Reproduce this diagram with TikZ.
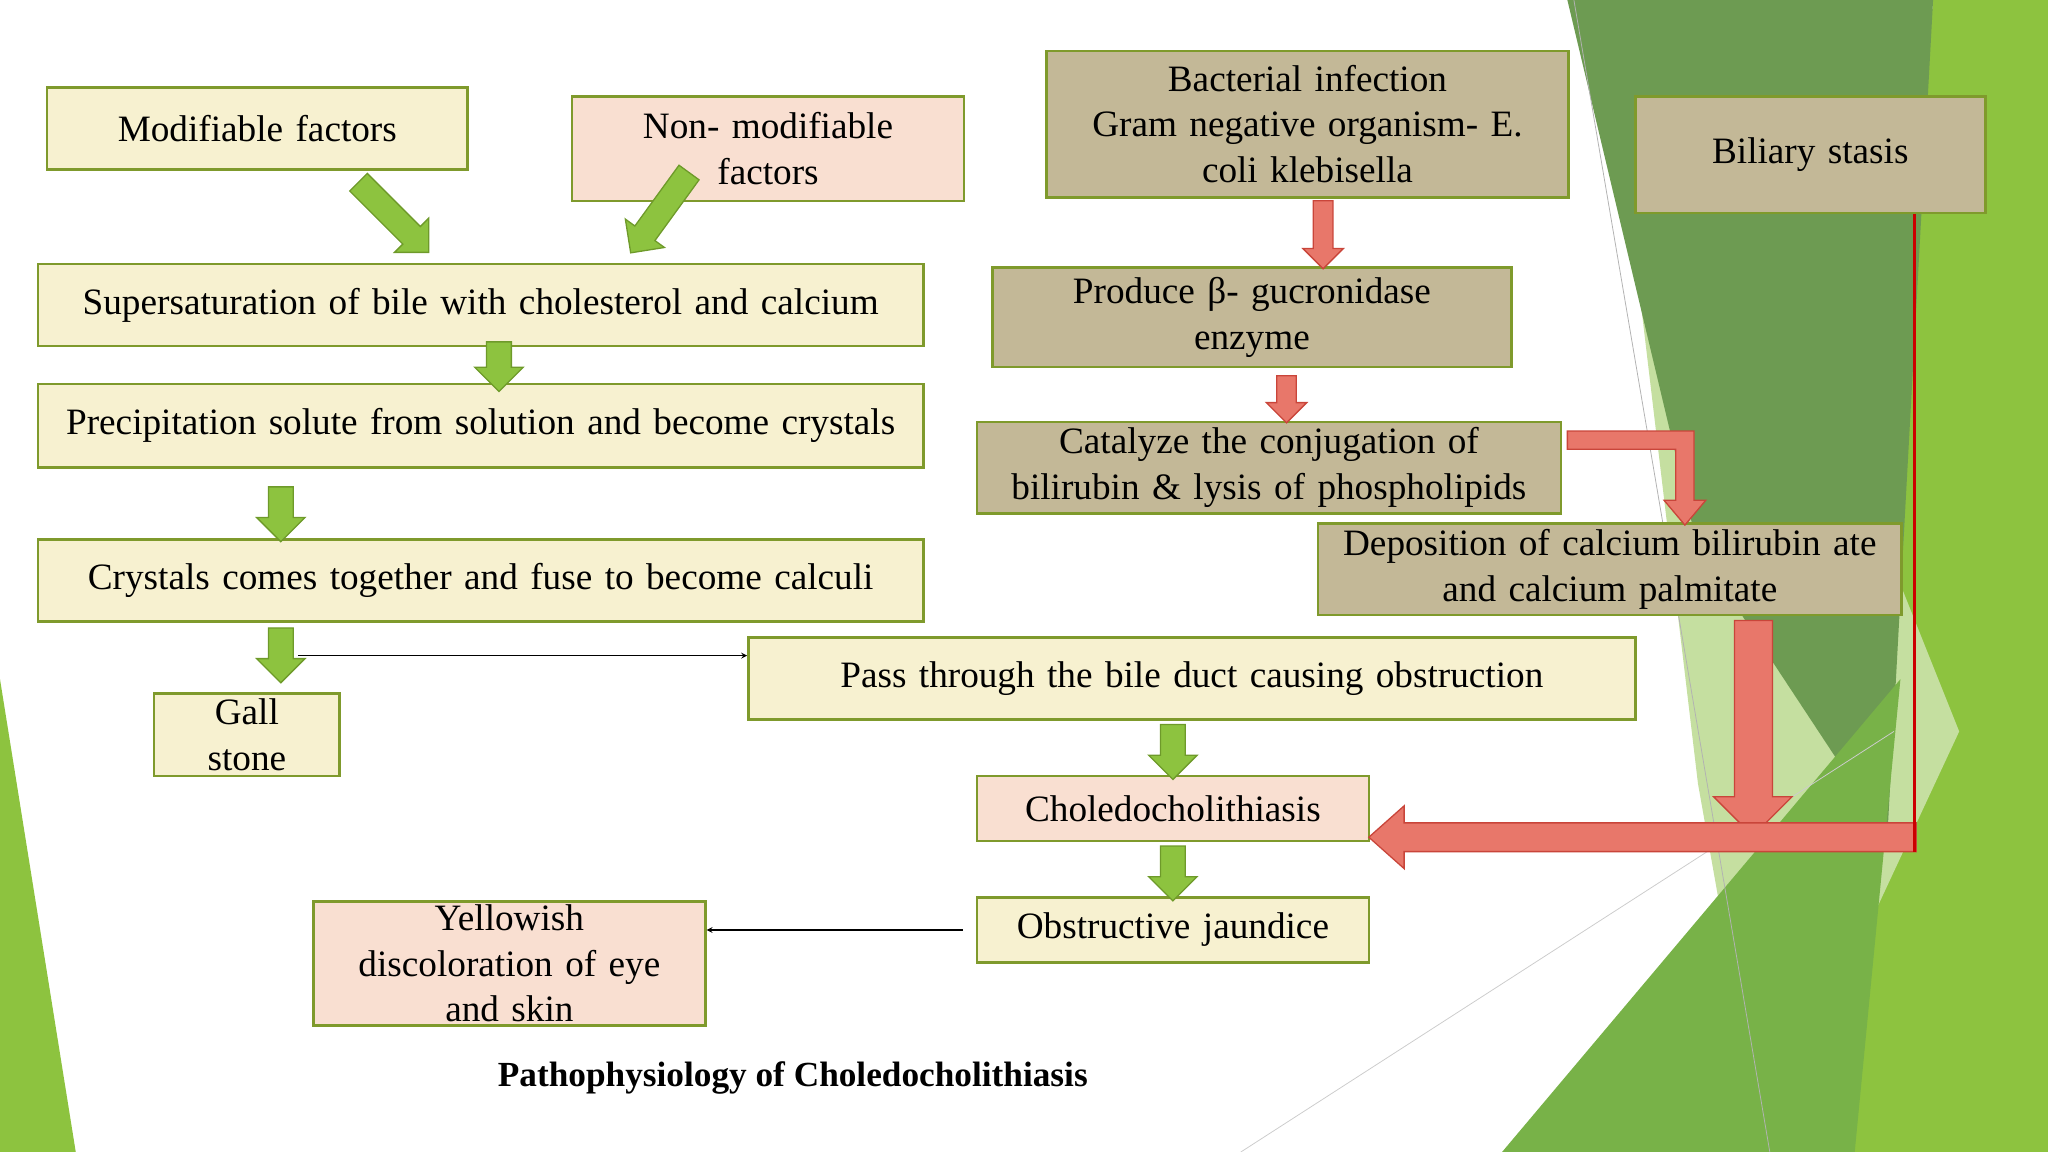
\documentclass[tikz,border=0pt]{standalone}
\usepackage{fontspec}
\setmainfont{Liberation Serif}
\usetikzlibrary{shapes.arrows}
\definecolor{cream}{HTML}{F7F1D0}
\definecolor{pinkb}{HTML}{F9DFD1}
\definecolor{khaki}{HTML}{C3B897}
\definecolor{bord}{HTML}{7F9A2C}
\definecolor{gfill}{HTML}{8DC33F}
\definecolor{gline}{HTML}{6E9A2A}
\definecolor{rfill}{HTML}{E8776A}
\definecolor{rline}{HTML}{C9453A}
\definecolor{lgreen}{HTML}{C5DFA0}
\definecolor{dgreen}{HTML}{6D9B52}
\definecolor{mgreen}{HTML}{78B248}
\tikzset{
 box/.style={draw=bord,line width=2pt,inner sep=2pt,align=center,font=\fontsize{28.5}{35}\selectfont},
 cr/.style={box,fill=cream}, pk/.style={box,fill=pinkb}, kh/.style={box,fill=khaki},
 garr/.style={single arrow,draw=gline,fill=gfill,line width=1pt,inner xsep=0pt,inner ysep=9pt,single arrow head extend=9pt,single arrow head indent=0pt},
 rarr/.style={single arrow,draw=rline,fill=rfill,line width=1pt,inner xsep=0pt,inner ysep=7pt,single arrow head extend=8pt},
 thin/.style={-stealth,line width=1pt,black}
}
\newcommand\bx[7]{\node[#6,minimum width={(#4-#2)*1pt},minimum height={(#5-#3)*1pt},text width={(#4-#2-8)*1pt}] (#1) at ({(#2+#4)/2},{(#3+#5)/2+1}) {#7};}
\begin{document}
\begin{tikzpicture}[x=1pt,y=-1pt]
\useasboundingbox (0,0) rectangle (1568,882);
% background
\fill[gfill] (0,520) -- (58,882) -- (0,882) -- cycle;
\fill[gfill] (1480,0) -- (1568,0) -- (1568,882) -- (1400,882) -- cycle;
\fill[lgreen] (1250,180) -- (1420,360) -- (1500,560) -- (1350,882) -- (1300,600) -- cycle;
\fill[dgreen] (1200,0) -- (1480,0) -- (1445,640) -- (1300,420) -- cycle;
\fill[mgreen] (1150,882) -- (1455,520) -- (1420,882) -- cycle;
\draw[gray!60,line width=0.6pt] (1205,0) -- (1355,882);
\draw[gray!40,line width=0.6pt] (950,882) -- (1450,560);
% boxes
\bx{mod}{36}{66}{358}{129}{cr}{Modifiable factors}
\bx{non}{438}{73}{738}{153}{pk}{Non- modifiable\\factors}
\bx{bac}{801}{38}{1201}{150}{kh}{Bacterial infection\\Gram negative organism- E.\\coli klebisella}
\bx{bil}{1252}{73}{1520}{162}{kh}{Biliary stasis}
\bx{sup}{29}{201}{707}{264}{cr}{Supersaturation of bile with cholesterol and calcium}
\bx{pro}{760}{204}{1157}{280}{kh}{Produce β- gucronidase\\enzyme}
\bx{pre}{29}{293}{707}{357}{cr}{Precipitation solute from solution and become crystals}
\bx{cat}{748}{322}{1195}{392}{kh}{Catalyze the conjugation of\\bilirubin \& lysis of phospholipids}
\bx{dep}{1009}{400}{1456}{470}{kh}{Deposition of calcium bilirubin ate\\and calcium palmitate}
\bx{cry}{29}{412}{707}{475}{cr}{Crystals comes together and fuse to become calculi}
\bx{pas}{573}{487}{1252}{550}{cr}{Pass through the bile duct causing obstruction}
\bx{gal}{118}{530}{260}{593}{cr}{Gall\\stone}
\bx{cho}{748}{593}{1048}{643}{pk}{Choledocholithiasis}
\bx{obs}{748}{686}{1048}{736}{cr}{Obstructive jaundice}
\bx{yel}{240}{689}{540}{784}{pk}{Yellowish\\discoloration of eye\\and skin}
\node[font=\fontsize{27}{30}\selectfont\bfseries] (title) at (607,825) {Pathophysiology of Choledocholithiasis};
% green arrows
\node[garr,minimum height=76pt,rotate=-45] (g1) at (298,163) {};
\node[garr,minimum height=76pt,rotate=-126] (g2) at (508,159) {};
\node[garr,minimum height=38pt,rotate=-90] (g3) at (382,276) {};
\node[garr,minimum height=42pt,rotate=-90] (g4) at (215,389) {};
\node[garr,minimum height=42pt,rotate=-90] (g5) at (215,497) {};
\node[garr,minimum height=42pt,rotate=-90] (g6) at (898,571) {};
\node[garr,minimum height=42pt,rotate=-90] (g7) at (898,664) {};
% red arrows
\node[rarr,minimum height=52pt,rotate=-90] (r1) at (1013,176) {};
\node[rarr,minimum height=36pt,rotate=-90] (r2) at (985,302) {};
\filldraw[draw=rline,fill=rfill,line width=1pt] (1200,330) -- (1297,330) -- (1297,383) -- (1306,383) -- (1290,402) -- (1274,383) -- (1283,383) -- (1283,344) -- (1200,344) -- cycle;
\filldraw[draw=rline,fill=rfill,line width=1pt] (1328,475) -- (1357,475) -- (1357,610) -- (1372,610) -- (1342,640) -- (1312,610) -- (1328,610) -- cycle;
\filldraw[draw=rline,fill=rfill,line width=1pt] (1467,630) -- (1467,652) -- (1075,652) -- (1075,665) -- (1048,641) -- (1075,617) -- (1075,630) -- cycle;
\draw[red!80!black,line width=2pt] ([xshift=-55pt]bil.south east) -- ++(0,488);
% thin arrows
\coordinate (gs) at (228,502);
\draw[thin] (gs) -- (pas.west |- gs);
\draw[thin] ([xshift=-10pt]obs.west) -- (yel.east |- obs.west);
\end{tikzpicture}
\end{document}
